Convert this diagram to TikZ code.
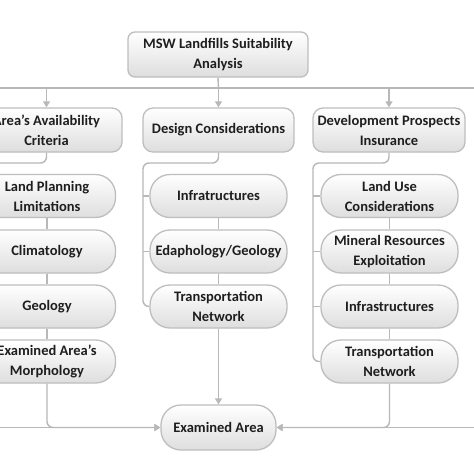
\documentclass[tikz,border=0pt]{standalone}
\usepackage{fontspec}
\setmainfont{Carlito}
\usetikzlibrary{arrows.meta}
\definecolor{ln}{HTML}{B8B8B8}
\definecolor{bd}{HTML}{BEBEBE}
\definecolor{tx}{HTML}{1E1E1E}
\begin{document}
\begin{tikzpicture}[x=1pt,y=-1pt,
  box/.style={draw=bd, line width=1.3pt, top color=white, bottom color=black!13, text=tx,
    font=\bfseries\fontsize{14.5}{20}\selectfont, align=center, inner sep=0pt},
  topbox/.style={box, rounded corners=7pt, minimum width=180pt, minimum height=45pt},
  lvl/.style={box, rounded corners=10pt, minimum height=44pt},
  pill/.style={box, rounded corners=20pt, minimum width=137pt, minimum height=43pt},
  conn/.style={draw=ln, line width=1.4pt},
  arr/.style={conn, -{Triangle[length=6pt,width=7pt]}}]
\fill[white] (0,0) rectangle (474,474);
\useasboundingbox (0,0) rectangle (474,474);
\clip (0,0) rectangle (474,474);

\node[topbox] (top) at (218,54.5) {MSW Landfills Suitability\\Analysis};

\node[lvl, minimum width=151pt] (a1) at (46.5,130) {Area’s Availability\\Criteria};
\node[lvl, minimum width=151pt] (a2) at (218.5,130) {Design Considerations};
\node[lvl, minimum width=152pt] (a3) at (389,130) {Development Prospects\\Insurance};

\node[pill] (l1) at (47,196) {Land Planning\\Limitations};
\node[pill] (l2) at (47,251.5) {Climatology};
\node[pill] (l3) at (47,306.5) {Geology};
\node[pill] (l4) at (47,361.5) {Examined Area’s\\Morphology};

\node[pill] (m1) at (218.5,196) {Infratructures};
\node[pill] (m2) at (218.5,251.5) {Edaphology/Geology};
\node[pill] (m3) at (218.5,306.5) {Transportation\\Network};

\node[pill] (r1) at (389.5,196) {Land Use\\Considerations};
\node[pill] (r2) at (389.5,251.5) {Mineral Resources\\Exploitation};
\node[pill] (r3) at (389.5,306.5) {Infrastructures};
\node[pill] (r4) at (389.5,361.5) {Transportation\\Network};

\node[pill, minimum width=115pt, minimum height=45pt] (ex) at (218.5,427.5) {Examined Area};

% top distribution line
\coordinate (j0) at (218.5,88);
\coordinate (eL) at (-10,88);
\coordinate (eR) at (484,88);
\draw[conn] (top.south) -- (j0);
\draw[conn] (eL) -- (eR);
\draw[arr] (a1.north |- j0) -- (a1.north);
\draw[arr] (a2.north |- j0) -- (a2.north);
\draw[arr] (a3.north |- j0) -- (a3.north);

% branch lines
\coordinate (b1) at (-29,163);
\coordinate (b2) at (143,163);
\coordinate (b3) at (313,163);
\draw[conn, rounded corners=6pt] (a1.south) |- (b1) -- (b1 |- l4.west) -- (l4.west);
\draw[conn, rounded corners=6pt] (a2.south) |- (b2) -- (b2 |- m3.west) -- (m3.west);
\draw[conn, rounded corners=6pt] (a3.south) |- (b3) -- (b3 |- r4.west) -- (r4.west);
\foreach \n in {l1,l2,l3} \draw[conn] (b1 |- \n.west) -- (\n.west);
\foreach \n in {m1,m2} \draw[conn] (b2 |- \n.west) -- (\n.west);
\foreach \n in {r1,r2,r3} \draw[conn] (b3 |- \n.west) -- (\n.west);

% stacked connectors
\draw[conn] (l1.south) -- (l2.north);
\draw[conn] (l2.south) -- (l3.north);
\draw[conn] (l3.south) -- (l4.north);
\draw[conn] (m1.south) -- (m2.north);
\draw[conn] (m2.south) -- (m3.north);
\draw[conn] (r1.south) -- (r2.north);
\draw[conn] (r2.south) -- (r3.north);
\draw[conn] (r3.south) -- (r4.north);

% bottom collection
\coordinate (fL) at (-10,427.5);
\coordinate (fR) at (484,427.5);
\draw[arr] (fL) -- (ex.west);
\draw[arr] (fR) -- (ex.east);
\draw[arr, rounded corners=6pt] (l4.south) |- (ex.west);
\draw[arr, rounded corners=6pt] (r4.south) |- (ex.east);
\draw[arr] (m3.south) -- (ex.north);
\end{tikzpicture}
\end{document}
